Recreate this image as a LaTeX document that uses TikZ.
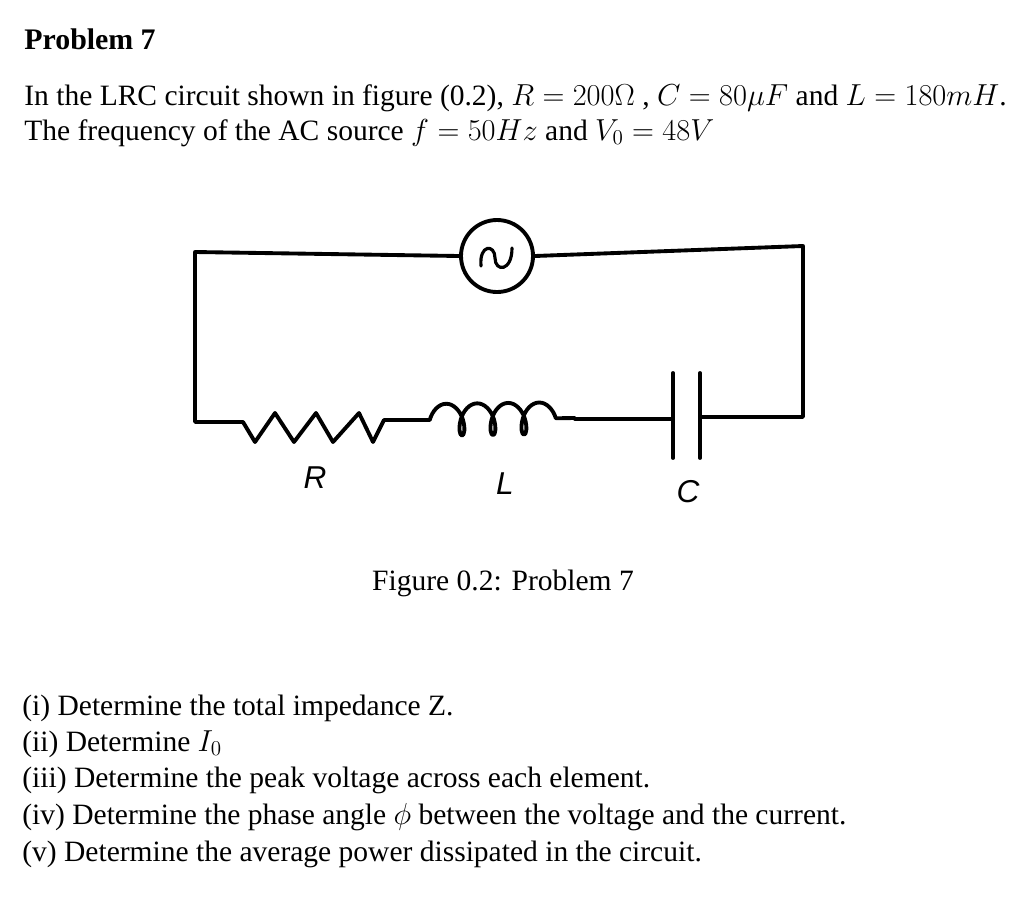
\documentclass[tikz,border=0pt]{standalone}
\usepackage{fontspec}
\setmainfont{Liberation Serif}
\newfontfamily\lblfont{Liberation Sans}
\usetikzlibrary{decorations.pathmorphing}
\begin{document}
\begin{tikzpicture}[x=0.02cm,y=-0.02cm,
  wire/.style={line width=2.2pt,line join=round,line cap=round},
  txt/.style={anchor=base west,inner sep=0pt,font=\fontsize{16.8}{18}\selectfont},
  lbl/.style={font=\lblfont\itshape\fontsize{18}{18}\selectfont}]
\useasboundingbox (0,0) rectangle (1024,900);
\node[txt,font=\bfseries\fontsize{17}{18}\selectfont] (title) at (24,49) {Problem 7};
\node[txt] (l1) at (24,105) {In the LRC circuit shown in figure (0.2), $R=200\Omega$ , $C=80\mu F$ and $L=180mH$.};
\node[txt] (l2) at (24,140) {The frequency of the AC source $f=50Hz$ and $V_0=48V$};
% source
\node[draw,circle,line width=2.2pt,minimum size=2*36*0.02cm,inner sep=0pt] (src) at (497,256) {};
\draw[line width=1.8pt,line cap=round] (481,266) .. controls (479,244) and (495,244) .. (495,258) .. controls (495,272) and (512,272) .. (512,248);
% wires
\coordinate (tl) at (195,252);
\coordinate (tr) at (803,246);
\coordinate (br) at (803,417);
\coordinate (bl) at (195,422);
\draw[wire] (src.west) -- (tl) -- (bl) -- (243,422) -- (255,442) -- (275,413) -- (294,442) -- (316,413) -- (333,442) -- (359,413) -- (373,442) -- (384,420) -- (428,420);
\draw[wire,decorate,decoration={coil,aspect=0.55,segment length=31*0.02cm,amplitude=16*0.02cm,pre length=1pt,post length=1pt}] (428,420) -- (575,418);
\draw[wire] (575,419) -- (673,419);
\draw[wire] (src.east) -- (tr) -- (br) -- (700,417);
\draw[wire] (673,373) -- (673,458);
\draw[wire] (700,373) -- (700,458);
\node[lbl] (R) at (315,478) {R};
\node[lbl] (L) at (505,484) {L};
\node[lbl] (C) at (688,492) {C};
\node[txt,anchor=base] (cap) at (503,590) {Figure 0.2: Problem 7};
\node[txt] (q1) at (22,715) {(i) Determine the total impedance Z.};
\node[txt] (q2) at (22,751) {(ii) Determine $I_0$};
\node[txt] (q3) at (22,787) {(iii) Determine the peak voltage across each element.};
\node[txt] (q4) at (22,824) {(iv) Determine the phase angle $\phi$ between the voltage and the current.};
\node[txt] (q5) at (22,861) {(v) Determine the average power dissipated in the circuit.};
\end{tikzpicture}
\end{document}
